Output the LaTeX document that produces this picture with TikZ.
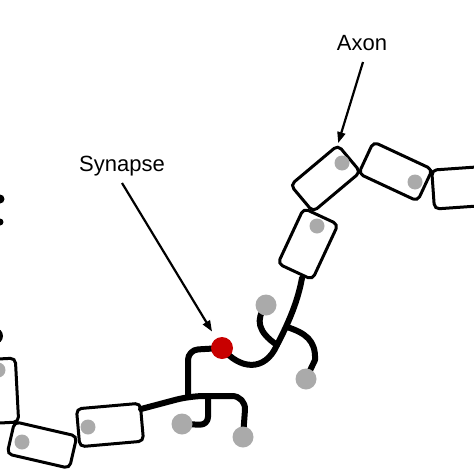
\documentclass[tikz,border=0pt]{standalone}
\usepackage{fontspec}
\setmainfont{Liberation Sans}
\usetikzlibrary{arrows.meta}
\definecolor{dotgray}{RGB}{170,170,170}
\definecolor{synred}{RGB}{200,0,0}
\begin{document}
\begin{tikzpicture}[x=1pt,y=-1pt,
  cell/.style={draw=black, line width=3pt, rounded corners=5pt, fill=white, rectangle, inner sep=0pt},
  nuc/.style={circle, fill=dotgray, inner sep=0pt, minimum size=15pt},
  bouton/.style={circle, fill=dotgray, inner sep=0pt, minimum size=21pt},
  synapsedot/.style={circle, fill=synred, inner sep=0pt, minimum size=22pt},
  fiber/.style={line width=6pt, line cap=round, line join=round},
  pointer/.style={line width=2.2pt, -{Triangle[length=11pt,width=8pt]}},
  lab/.style={font=\fontsize{22}{26}\selectfont, inner sep=0pt}]
\useasboundingbox (0,0) rectangle (474,474);
\clip (0,0) rectangle (474,474);

% clipped marks at the left edge
\fill (0,199) circle (4.5);
\fill (0,222) circle (3.5);
\fill (-5,336) circle (8);

% cells
\node[cell, minimum width=36pt, minimum height=64pt, rotate=3] (r1) at (-1,391) {};
\node[cell, minimum width=64pt, minimum height=33pt, rotate=-13] (r2) at (42,445) {};
\node[cell, minimum width=64pt, minimum height=38pt, rotate=5] (r3) at (110,425) {};
\node[cell, minimum width=38pt, minimum height=61pt, rotate=-25] (r4) at (308,244) {};
\node[cell, minimum width=62pt, minimum height=35pt, rotate=40] (r5) at (325.5,178.5) {};
\node[cell, minimum width=65pt, minimum height=35pt, rotate=-25] (r6) at (395.5,171.5) {};
\node[cell, minimum width=74pt, minimum height=39pt, rotate=4] (r7) at (470,187) {};

% nuclei
\node[nuc] (n1) at (-2,370) {};
\node[nuc] (n2) at (22,442) {};
\node[nuc] (n3) at (88,427) {};
\node[nuc] (n4) at (317,226) {};
\node[nuc] (n5) at (342,163) {};
\node[nuc] (n6) at (415,182) {};

% fibre ends
\coordinate (g1) at (266,305);
\coordinate (g2) at (306,379);
\coordinate (g3) at (182,424);
\coordinate (g4) at (243,437);
\coordinate (rdc) at (222,348);
\coordinate (a3) at (141,409);
\coordinate (a4) at (302,278);
\coordinate (j1) at (188,396);
\coordinate (j2) at (208,396);
\coordinate (j3) at (277,345);
\coordinate (j4) at (287,327);

% fibres
\draw[fiber, rounded corners=14pt] (a3) -- (190,396) -- (246,396) -- (g4);
\draw[fiber, rounded corners=10pt] (j1) -- (188,350) -- (rdc);
\draw[fiber, rounded corners=8pt] (j2) -- (208,425) -- (g3);
\draw[fiber] (rdc) .. controls (240,370) and (265,372) .. (j3) .. controls (290,320) and (298,300) .. (a4);
\draw[fiber] (j3) .. controls (258,332) and (255,320) .. (g1);
\draw[fiber] (j4) .. controls (305,333) and (316,340) .. (315,360) -- (g2);

% end dots
\node[bouton] (b1) at (g1) {};
\node[bouton] (b2) at (g2) {};
\node[bouton] (b3) at (g3) {};
\node[bouton] (b4) at (g4) {};
\node[synapsedot] (rd) at (rdc) {};

% labels
\node[lab, anchor=base] (axlab) at (362,50) {Axon};
\node[lab, anchor=base] (synlab) at (122,171) {Synapse};
\coordinate (a0) at (363,62);
\coordinate (s0) at (122,183);
\draw[pointer] (a0) -- (r5.north east);
\draw[pointer, shorten >=8pt] (s0) -- (rd);
\end{tikzpicture}
\end{document}
